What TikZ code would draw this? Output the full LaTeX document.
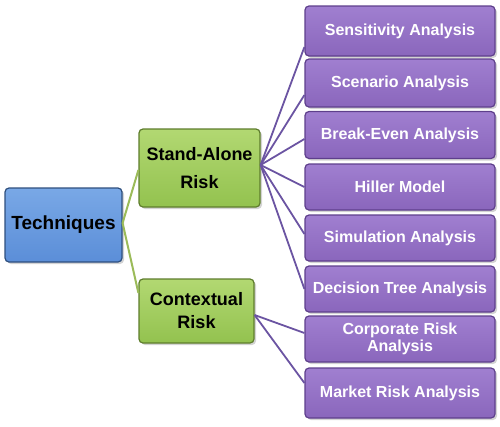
\documentclass[tikz,border=0pt]{standalone}
\usepackage{fontspec}
\setmainfont{Liberation Sans}
\usetikzlibrary{shadows}
\definecolor{bluefill}{HTML}{5B8ED8}
\definecolor{bluetop}{HTML}{79A8E6}
\definecolor{blueedge}{HTML}{2E4F7E}
\definecolor{greenfill}{HTML}{93C24F}
\definecolor{greentop}{HTML}{B2D872}
\definecolor{greenedge}{HTML}{5E7D2C}
\definecolor{purplefill}{HTML}{8A66BC}
\definecolor{purpletop}{HTML}{A07FD0}
\definecolor{purpleedge}{HTML}{5E3F8C}
\definecolor{plink}{HTML}{6B54A2}
\definecolor{glink}{HTML}{9BBB59}
\tikzset{
  box/.style={rectangle, rounded corners=4pt, line width=1.2pt, align=center,
    inner sep=1pt, drop shadow={shadow xshift=2pt, shadow yshift=-2pt, opacity=0.35}},
  bluebox/.style={box, draw=blueedge, top color=bluetop, bottom color=bluefill,
    text=black, font=\bfseries\fontsize{19}{22}\selectfont},
  greenbox/.style={box, draw=greenedge, top color=greentop, bottom color=greenfill,
    text=black},
  purplebox/.style={box, draw=purpleedge, top color=purpletop, bottom color=purplefill,
    text=white, minimum width=190pt, font=\bfseries\fontsize{16}{17}\selectfont},
  plinkstyle/.style={draw=plink, line width=1.8pt},
  glinkstyle/.style={draw=glink, line width=2pt}
}
\begin{document}
\begin{tikzpicture}[x=1pt,y=-1pt]
\useasboundingbox (0,0) rectangle (500,426);
% purple boxes
\node[purplebox, minimum height=50pt] (p1) at (400,31) {Sensitivity Analysis};
\node[purplebox, minimum height=48pt] (p2) at (400,83) {Scenario Analysis};
\node[purplebox, minimum height=47pt] (p3) at (400,135) {Break-Even Analysis};
\node[purplebox, minimum height=46pt] (p4) at (400,187) {Hiller Model};
\node[purplebox, minimum height=46pt] (p5) at (400,238) {Simulation Analysis};
\node[purplebox, minimum height=46pt] (p6) at (400,289) {Decision Tree Analysis};
\node[purplebox, minimum height=46pt] (p7) at (400,339) {Corporate Risk\\Analysis};
\node[purplebox, minimum height=50pt] (p8) at (400,393) {Market Risk Analysis};
% green and blue boxes
\node[greenbox, minimum width=121pt, minimum height=78pt,
  font=\bfseries\fontsize{18}{28}\selectfont] (sa) at (199.5,168) {Stand-Alone\\Risk};
\node[greenbox, minimum width=115pt, minimum height=64pt,
  font=\bfseries\fontsize{18}{23}\selectfont] (ctx) at (196.5,311) {Contextual\\Risk};
\node[bluebox, minimum width=117pt, minimum height=74pt] (tech) at (63.5,225) {Techniques};
% connectors
\draw[glinkstyle] ([yshift=2pt]tech.east) -- ([yshift=-2pt]sa.west);
\draw[glinkstyle] ([yshift=2pt]tech.east) -- ([yshift=18pt]ctx.west);
\draw[plinkstyle] ([yshift=3pt]sa.east) -- ([yshift=-16pt]p1.west);
\draw[plinkstyle] ([yshift=3pt]sa.east) -- ([yshift=-12pt]p2.west);
\draw[plinkstyle] ([yshift=3pt]sa.east) -- ([yshift=-4pt]p3.west);
\draw[plinkstyle] ([yshift=3pt]sa.east) -- (p4.west);
\draw[plinkstyle] ([yshift=3pt]sa.east) -- ([yshift=4pt]p5.west);
\draw[plinkstyle] ([yshift=3pt]sa.east) -- (p6.west);
\draw[plinkstyle] ([yshift=-4pt]ctx.east) -- ([yshift=6pt]p7.west);
\draw[plinkstyle] ([yshift=-4pt]ctx.east) -- ([yshift=10pt]p8.west);
\end{tikzpicture}
\end{document}
